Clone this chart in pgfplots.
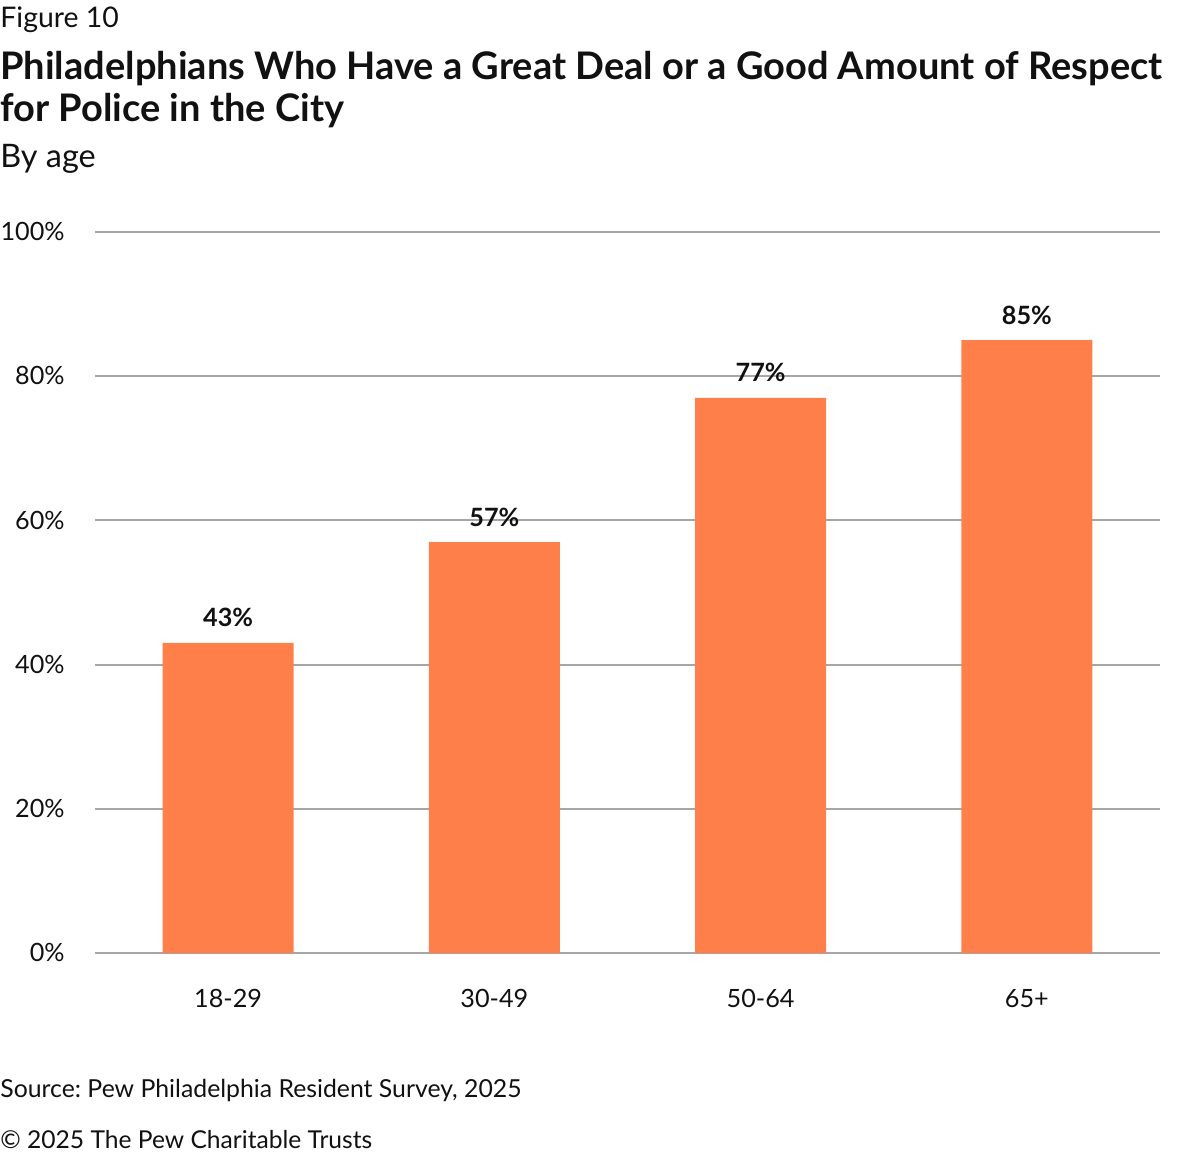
\documentclass[border=0pt]{standalone}
\usepackage{pgfplots}
\pgfplotsset{compat=1.18}
\usepackage{fontspec}
\setmainfont{Lato}
\frenchspacing
\definecolor{barorange}{HTML}{FF7F4A}
\definecolor{gridgray}{HTML}{A6A6A6}
\definecolor{textblack}{HTML}{111111}
\begin{document}
\begin{tikzpicture}
\path[use as bounding box] (0,0) rectangle (600pt,-577pt);
\node[anchor=base west, inner sep=0, text=textblack] at (0,-14pt) {\fontsize{14.2pt}{16pt}\selectfont Figure 10};
\node[anchor=base west, inner sep=0, text=textblack] at (0,-40pt) {\fontsize{19pt}{21pt}\selectfont\bfseries Philadelphians Who Have a Great Deal or a Good Amount of Respect};
\node[anchor=base west, inner sep=0, text=textblack] at (0,-61pt) {\fontsize{19pt}{21pt}\selectfont\bfseries for Police in the City};
\node[anchor=base west, inner sep=0, text=textblack] at (0,-84pt) {\fontsize{16.2pt}{18pt}\selectfont By age};
\begin{axis}[
  at={(47.5pt,-476.5pt)}, anchor=south west,
  scale only axis, width=532.5pt, height=360.5pt,
  ybar, bar width=65.5pt,
  xmin=-0.5, xmax=3.5, ymin=0, ymax=100,
  xtick={0,1,2,3}, xticklabels={18-29,30-49,50-64,65+},
  ytick={0,20,40,60,80,100},
  yticklabels={0\%,20\%,40\%,60\%,80\%,100\%},
  ymajorgrids=true,
  grid style={gridgray, line width=1pt},
  axis line style={draw=none},
  tick style={draw=none},
  major tick length=0pt,
  /pgf/number format/assume math mode=true,
  ticklabel style={font=\fontsize{12.6pt}{15pt}\selectfont, text=textblack},
  xticklabel style={anchor=base, inner sep=0pt, yshift=-27pt},
  yticklabel style={anchor=base east, inner sep=0pt, xshift=-15pt, yshift=-4.4pt},
  nodes near coords={\pgfmathprintnumber{\pgfplotspointmeta}\%},
  nodes near coords style={anchor=base, inner sep=0pt, yshift=8pt, font=\fontsize{12.6pt}{15pt}\selectfont\bfseries, text=textblack},
]
\addplot[fill=barorange, draw=none] coordinates {(0,43) (1,57) (2,77) (3,85)};
\end{axis}
\node[anchor=base west, inner sep=0, text=textblack] at (0,-548.5pt) {\fontsize{12.4pt}{15pt}\selectfont Source: Pew Philadelphia Resident Survey, 2025};
\node[anchor=base west, inner sep=0, text=textblack] at (0,-574pt) {\fontsize{12.3pt}{15pt}\selectfont \textcopyright{} 2025 The Pew Charitable Trusts};
\end{tikzpicture}
\end{document}
